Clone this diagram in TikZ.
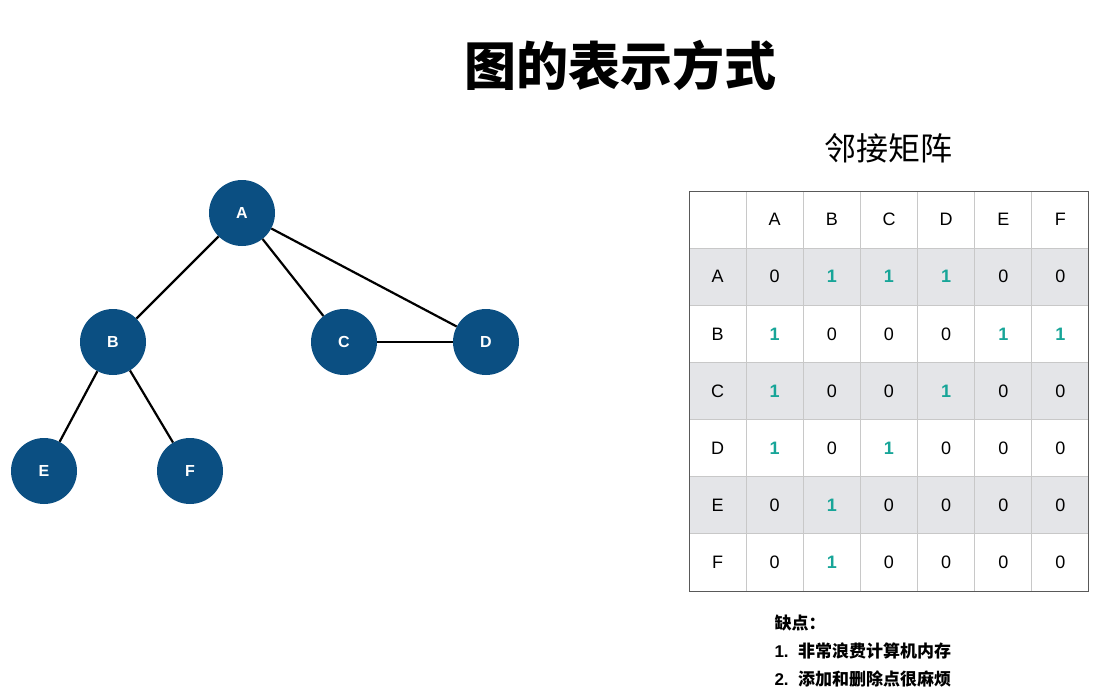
\documentclass[tikz,border=0pt]{standalone}
\usepackage{fontspec}
\setmainfont{Liberation Sans}
\newfontfamily\cjk{Noto Sans CJK SC}
\definecolor{nodeblue}{HTML}{0B4F82}
\definecolor{teal1}{HTML}{17A598}
\definecolor{rowgray}{HTML}{E4E5E8}
\definecolor{gridgray}{HTML}{C8C8C8}
\begin{document}
\begin{tikzpicture}[x=1pt,y=-1pt,
  vert/.style={circle,fill=nodeblue,minimum size=66pt,inner sep=0pt,text=white,font=\fontsize{16}{16}\selectfont\bfseries},
  edge/.style={line width=2.2pt,black},
  cell/.style={font=\fontsize{18}{18}\selectfont},
  one/.style={font=\fontsize{18}{18}\selectfont\bfseries,text=teal1}]
\useasboundingbox (0,0) rectangle (1113,697);
\node (title) at (620,65) {\cjk\fontsize{52}{52}\selectfont\bfseries 图的表示方式};
\node (mt) at (888,148) {\cjk\fontsize{32}{32}\selectfont 邻接矩阵};
\node[vert] (A) at (242,213) {A};
\node[vert] (B) at (113,342) {B};
\node[vert] (C) at (344,342) {C};
\node[vert] (D) at (486,342) {D};
\node[vert] (E) at (44,471) {E};
\node[vert] (F) at (190,471) {F};
\draw[edge] (A) -- (B);
\draw[edge] (A) -- (C);
\draw[edge] (A) -- (D);
\draw[edge] (C) -- (D);
\draw[edge] (B) -- (E);
\draw[edge] (B) -- (F);
% table
\def\cw{57.14}
\foreach \r in {1,3,5} \fill[rowgray] (689,191+\r*\cw) rectangle (1088,191+\r*\cw+\cw);
\foreach \i in {1,...,6} {
  \draw[gridgray,line width=0.8pt] (689+\i*\cw,191) -- (689+\i*\cw,591);
  \draw[gridgray,line width=0.8pt] (689,191+\i*\cw) -- (1088,191+\i*\cw);
}
\draw[black!65,line width=1pt] (689,191) rectangle (1088,591);
\foreach \l [count=\i] in {A,B,C,D,E,F} {
  \node[cell] (h\i) at (689+\i*\cw+\cw/2,191+\cw/2) {\l};
  \node[cell] (r\i) at (689+\cw/2,191+\i*\cw+\cw/2) {\l};
}
\foreach \row [count=\i] in {{0,1,1,1,0,0},{1,0,0,0,1,1},{1,0,0,1,0,0},{1,0,1,0,0,0},{0,1,0,0,0,0},{0,1,0,0,0,0}} {
  \foreach \v [count=\j] in \row {
    \ifnum\v=1
      \node[one] (m\i\j) at (689+\j*\cw+\cw/2,191+\i*\cw+\cw/2) {1};
    \else
      \node[cell] (m\i\j) at (689+\j*\cw+\cw/2,191+\i*\cw+\cw/2) {0};
    \fi
  }
}
\node[anchor=west] (n0) at (771,623) {\cjk\fontsize{17}{17}\selectfont\bfseries 缺点：};
\node[anchor=west] (n1) at (771,651) {\fontsize{17}{17}\selectfont\bfseries 1.\ \ \cjk 非常浪费计算机内存};
\node[anchor=west] (n2) at (771,679) {\fontsize{17}{17}\selectfont\bfseries 2.\ \ \cjk 添加和删除点很麻烦};
\end{tikzpicture}
\end{document}
